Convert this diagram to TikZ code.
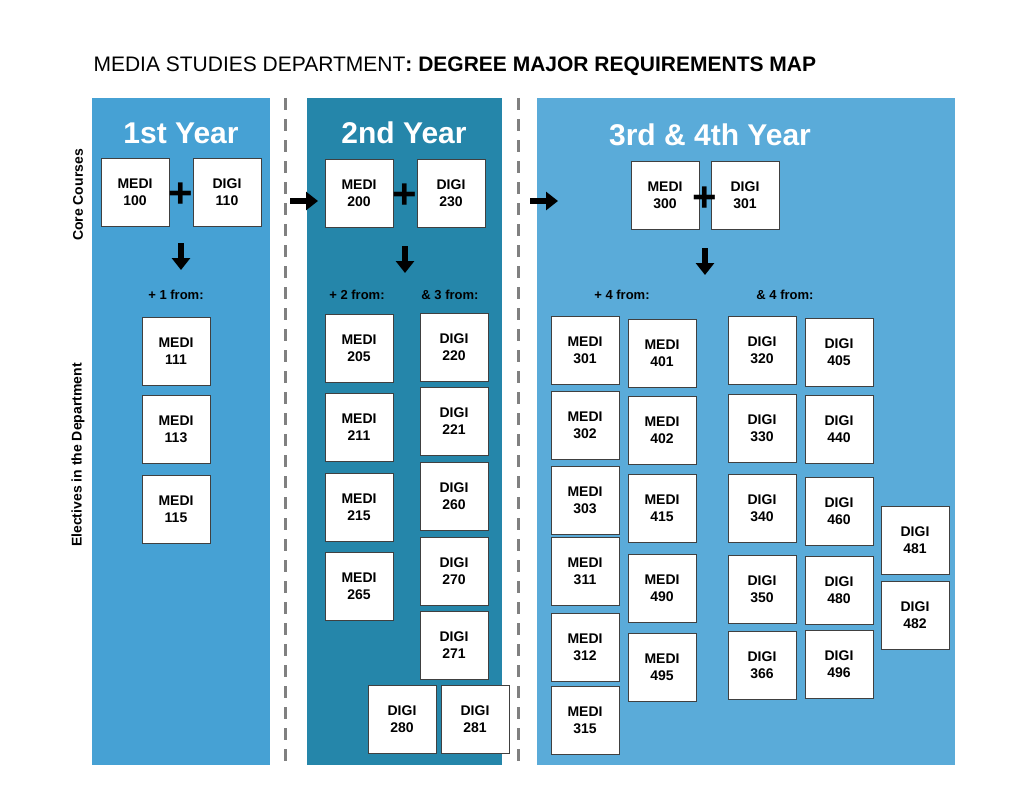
\documentclass[tikz,border=0pt]{standalone}
\usepackage{fontspec}
\setmainfont{Liberation Sans}
\usetikzlibrary{arrows.meta}
\definecolor{pA}{HTML}{46A1D4}
\definecolor{pB}{HTML}{2586AA}
\definecolor{pC}{HTML}{5AABD9}
\tikzset{
  course/.style={draw=black!75,fill=white,minimum width=68pt,minimum height=68pt,inner sep=0pt,align=center,font=\fontsize{14}{17}\selectfont\bfseries},
  year/.style={text=white,font=\fontsize{30}{30}\selectfont\bfseries},
  pick/.style={font=\fontsize{13}{13}\selectfont\bfseries},
  side/.style={rotate=90,font=\fontsize{14}{14}\selectfont\bfseries},
  plus/.style={font=\fontsize{42}{42}\selectfont\bfseries,inner sep=0pt},
  bigarrow/.style={line width=6pt,-{Triangle[length=12pt,width=18pt]}},
  sep/.style={draw=black!50,line width=3pt,dash pattern=on 12pt off 9pt}
}
\newcommand{\crs}[4]{\node[course] (#1) at (#2,#3) {#4};}
\begin{document}
\begin{tikzpicture}[x=1pt,y=-1pt]
\useasboundingbox[fill=white] (0,0) rectangle (1024,797);
\fill[pA] (92,98) rectangle (270,765);
\fill[pB] (307,98) rectangle (502,765);
\fill[pC] (537,98) rectangle (955,765);
\coordinate (s1t) at (285,98); \coordinate (s1b) at (285,765);
\coordinate (s2t) at (518,98); \coordinate (s2b) at (518,765);
\draw[sep] (s1t) -- (s1b);
\draw[sep] (s2t) -- (s2b);
\node[anchor=west,font=\fontsize{21}{21}\selectfont] (title) at (90,66) {MEDIA STUDIES DEPARTMENT\textbf{: DEGREE MAJOR REQUIREMENTS MAP}};
\node[year] (y1) at (181,133) {1st Year};
\node[year] (y2) at (404,133) {2nd Year};
\node[year] (y3) at (710,135) {3rd \& 4th Year};
\node[side] (core) at (78,195) {Core Courses};
\node[side] (elec) at (78,455) {Electives in the Department};
% core
\crs{m100}{135}{192}{MEDI\\100}
\crs{d110}{227}{192}{DIGI\\110}
\node[plus] (p1) at (181,195) {+};
\crs{m200}{359}{193}{MEDI\\200}
\crs{d230}{451}{193}{DIGI\\230}
\node[plus] (p2) at (405,196) {+};
\crs{m300}{665}{195}{MEDI\\300}
\crs{d301}{745}{195}{DIGI\\301}
\node[plus] (p3) at (705,199) {+};
% arrows
\coordinate (a1s) at (290,201); \coordinate (a1e) at (318,201);
\coordinate (a2s) at (530,201); \coordinate (a2e) at (558,201);
\draw[bigarrow] (a1s) -- (a1e);
\draw[bigarrow] (a2s) -- (a2e);
\coordinate (d1s) at (181,243); \coordinate (d1e) at (181,270);
\coordinate (d2s) at (405,246); \coordinate (d2e) at (405,273);
\coordinate (d3s) at (705,248); \coordinate (d3e) at (705,275);
\draw[bigarrow] (d1s) -- (d1e);
\draw[bigarrow] (d2s) -- (d2e);
\draw[bigarrow] (d3s) -- (d3e);
% pick labels
\node[pick] (l1) at (176,295) {+ 1 from:};
\node[pick] (l2) at (357,295) {+ 2 from:};
\node[pick] (l3) at (450,295) {\& 3 from:};
\node[pick] (l4) at (622,295) {+ 4 from:};
\node[pick] (l5) at (785,295) {\& 4 from:};
% year 1
\crs{m111}{176}{351}{MEDI\\111}
\crs{m113}{176}{429}{MEDI\\113}
\crs{m115}{176}{509}{MEDI\\115}
% year 2
\crs{m205}{359}{348}{MEDI\\205}
\crs{m211}{359}{427}{MEDI\\211}
\crs{m215}{359}{507}{MEDI\\215}
\crs{m265}{359}{586}{MEDI\\265}
\crs{d220}{454}{347}{DIGI\\220}
\crs{d221}{454}{421}{DIGI\\221}
\crs{d260}{454}{496}{DIGI\\260}
\crs{d270}{454}{571}{DIGI\\270}
\crs{d271}{454}{645}{DIGI\\271}
\crs{d280}{402}{719}{DIGI\\280}
\crs{d281}{475}{719}{DIGI\\281}
% year 3/4
\crs{m301}{585}{350}{MEDI\\301}
\crs{m302}{585}{425}{MEDI\\302}
\crs{m303}{585}{500}{MEDI\\303}
\crs{m311}{585}{571}{MEDI\\311}
\crs{m312}{585}{647}{MEDI\\312}
\crs{m315}{585}{720}{MEDI\\315}
\crs{m401}{662}{353}{MEDI\\401}
\crs{m402}{662}{430}{MEDI\\402}
\crs{m415}{662}{508}{MEDI\\415}
\crs{m490}{662}{588}{MEDI\\490}
\crs{m495}{662}{667}{MEDI\\495}
\crs{d320}{762}{350}{DIGI\\320}
\crs{d330}{762}{428}{DIGI\\330}
\crs{d340}{762}{508}{DIGI\\340}
\crs{d350}{762}{589}{DIGI\\350}
\crs{d366}{762}{665}{DIGI\\366}
\crs{d405}{839}{352}{DIGI\\405}
\crs{d440}{839}{429}{DIGI\\440}
\crs{d460}{839}{511}{DIGI\\460}
\crs{d480}{839}{590}{DIGI\\480}
\crs{d496}{839}{664}{DIGI\\496}
\crs{d481}{915}{540}{DIGI\\481}
\crs{d482}{915}{615}{DIGI\\482}
\end{tikzpicture}
\end{document}
